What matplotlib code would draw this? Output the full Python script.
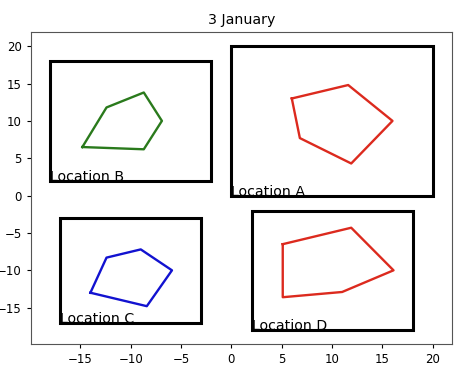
import matplotlib
matplotlib.use("Agg")
import matplotlib.pyplot as plt
from matplotlib.patches import Rectangle

# boxes: name, x0, y0, width, height
box_names = ["Location A", "Location B", "Location C", "Location D"]
box_x = [0, -18, -17, 2]
box_y = [0, 2, -17, -18]
box_w = [20, 16, 14, 16]
box_h = [20, 16, 14, 16]

# polygons inside each box
poly_a_x = [6.0, 11.6, 16.0, 11.9, 6.8]
poly_a_y = [13.0, 14.8, 10.0, 4.3, 7.7]
poly_b_x = [-14.8, -12.4, -8.7, -6.9, -8.7]
poly_b_y = [6.5, 11.8, 13.8, 10.0, 6.2]
poly_c_x = [-14.0, -12.4, -9.0, -5.9, -8.4]
poly_c_y = [-13.0, -8.3, -7.2, -10.0, -14.8]
poly_d_x = [5.1, 11.9, 16.1, 11.0, 5.1]
poly_d_y = [-6.5, -4.3, -10.0, -12.9, -13.6]

polys = [(poly_a_x, poly_a_y, "#dc2a1e"),
         (poly_b_x, poly_b_y, "#2a7a1c"),
         (poly_c_x, poly_c_y, "#1212d0"),
         (poly_d_x, poly_d_y, "#dc2a1e")]

fig = plt.figure(figsize=(4.74, 3.79), dpi=100)
ax = fig.add_axes([0.0654, 0.0916, 0.888, 0.824])

for name, x0, y0, w, h in zip(box_names, box_x, box_y, box_w, box_h):
    ax.add_patch(Rectangle((x0, y0), w, h, fill=False, edgecolor="black", lw=2.2))
    ax.text(x0, y0, name, fontsize=10.2, ha="left", va="baseline")

for px, py, c in polys:
    ax.plot(px + px[:1], py + py[:1], color=c, lw=1.7)

ax.set_xlim(-19.9, 21.9)
ax.set_ylim(-19.9, 21.9)
ax.set_xticks([-15, -10, -5, 0, 5, 10, 15, 20])
ax.set_yticks([-15, -10, -5, 0, 5, 10, 15, 20])
ax.tick_params(labelsize=8.5, length=3)
for s in ax.spines.values():
    s.set_color("#555555")
ax.set_title("3 January", fontsize=10.2)

fig.savefig("out.png", dpi=100)
